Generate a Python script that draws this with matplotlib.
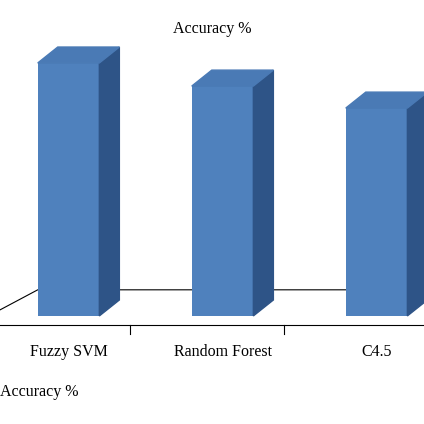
import matplotlib
matplotlib.use("Agg")
import matplotlib.pyplot as plt
from matplotlib.patches import Polygon

categories = ["Fuzzy SVM", "Random Forest", "C4.5"]
values = [92.0, 83.6, 75.6]
title = "Accuracy %"

fig = plt.figure(figsize=(4.24, 4.24), dpi=100)
ax = fig.add_axes([0, 0, 1, 1])
ax.set_xlim(-0.445, 2.308)
ax.set_ylim(-39.3, 114.9)
ax.axis("off")

w = 0.4
dx, dy = 0.13, 5.8
front, side, top = "#4F81BD", "#2E5487", "#4A7AB5"
x = list(range(len(categories)))

# floor
ax.plot([-0.445, -0.2, 2.308], [2.2, 9.5, 9.5], color="black", lw=0.8)
# axis line with ticks
ax.plot([-0.445, 2.308], [-3.3, -3.3], color="black", lw=0.8)
for t in [0.4, 1.4]:
    ax.plot([t, t], [-3.3, -6.5], color="black", lw=0.8)

for xi, v in zip(x, values):
    l, r = xi - w / 2, xi + w / 2
    ax.bar(xi, v, width=w, color=front, zorder=3)
    ax.add_patch(Polygon([(r, 0), (r + dx, dy), (r + dx, v + dy), (r, v)],
                         closed=True, color=side, zorder=3))
    ax.add_patch(Polygon([(l, v), (r, v), (r + dx, v + dy), (l + dx, v + dy)],
                         closed=True, color=top, zorder=3))
    ax.text(xi, -13, categories[xi], ha="center", va="center",
            family="Liberation Serif", fontsize=11.5)

ax.text(0.93, 104.5, title, ha="center", va="center",
        family="Liberation Serif", fontsize=11.5)
ax.text(-0.445, -27.6, title, ha="left", va="center",
        family="Liberation Serif", fontsize=11.5)

fig.savefig("out.png", dpi=100)
